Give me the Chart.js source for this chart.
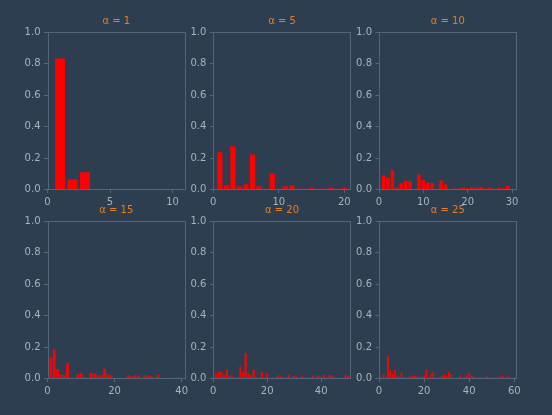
<!DOCTYPE html>
<html>
<head>
<meta charset="utf-8">
<script src="https://cdn.jsdelivr.net/npm/chart.js@4.4.1/dist/chart.umd.min.js"></script>
<style>
  html, body { margin: 0; padding: 0; background: #2c3e50; }
  #fig { position: relative; width: 552px; height: 415px; background: #2c3e50; overflow: hidden; }
  #fig canvas { position: absolute; }
</style>
</head>
<body>
<div id="fig"></div>
<script>
// concentration parameter of each panel
const alphas = [1, 5, 10, 15, 20, 25];

// stick-breaking weights, one bar per component (x = 1..N)
const weightsA1 = [0.831, 0.063, 0.110, 0, 0, 0, 0, 0, 0, 0];
const weightsA5 = [0.236, 0.025, 0.274, 0.020, 0.034, 0.223, 0.020, 0.005, 0.101, 0.004,
                   0.020, 0.025, 0.004, 0.004, 0.009, 0.004, 0.004, 0.009, 0.004, 0.009];
const weightsA10 = [0.089, 0.076, 0.123, 0.013, 0.042, 0.055, 0.053, 0.003, 0.095, 0.061,
                    0.044, 0.042, 0.004, 0.057, 0.032, 0.003, 0.006, 0.006, 0.013, 0.008,
                    0.013, 0.013, 0.017, 0.006, 0.013, 0.004, 0.011, 0.008, 0.024, 0.002];
const weightsA15 = [0.133, 0.183, 0.061, 0.025, 0.022, 0.099, 0.005, 0.005, 0.025, 0.037,
                    0.011, 0.005, 0.036, 0.033, 0.021, 0.021, 0.064, 0.026, 0.022, 0.005,
                    0.004, 0.002, 0.004, 0.021, 0.012, 0.019, 0.019, 0.005, 0.021, 0.021,
                    0.012, 0.006, 0.025, 0.004, 0.004, 0.004, 0.004, 0.004, 0.010, 0.004];
const weightsA20 = [0.032, 0.044, 0.042, 0.023, 0.057, 0.013, 0.021, 0.006, 0.006, 0.074,
                    0.042, 0.162, 0.032, 0.023, 0.057, 0.008, 0.006, 0.042, 0.008, 0.032,
                    0.002, 0.004, 0.004, 0.021, 0.013, 0.008, 0.008, 0.025, 0.006, 0.017,
                    0.011, 0.006, 0.017, 0.006, 0.008, 0.006, 0.017, 0.006, 0.021, 0.011,
                    0.023, 0.006, 0.021, 0.021, 0.006, 0.006, 0.002, 0.004, 0.021, 0.019];
const weightsA25 = [0.011, 0.025, 0.006, 0.145, 0.053, 0.025, 0.057, 0.015, 0.011, 0.040,
                    0.008, 0.006, 0.011, 0.013, 0.021, 0.017, 0.015, 0.011, 0.011, 0.017,
                    0.061, 0.011, 0.025, 0.040, 0.006, 0.006, 0.006, 0.019, 0.025, 0.017,
                    0.042, 0.025, 0.004, 0.004, 0.004, 0.021, 0.004, 0.011, 0.021, 0.036,
                    0.019, 0.015, 0.004, 0.006, 0.008, 0.004, 0.008, 0.015, 0.004, 0.008,
                    0.006, 0.004, 0.006, 0.021, 0.015, 0.004, 0.019, 0.004, 0.004, 0.004];

const xTickSteps = [5, 10, 10, 20, 20, 20];
const yTickStep = 0.2;

const allWeights = [weightsA1, weightsA5, weightsA10, weightsA15, weightsA20, weightsA25];

const spine = '#52657a';
const tickText = '#a9b3bd';
const titleColor = '#e67e22';
const font = { family: 'DejaVu Sans', size: 10 };

// layout of the 2x3 grid (pixels)
const axLeft = [47.5, 213.3, 379];
const axW = 137.5;
const canvasLeft = [0, 166, 332];
const canvasTop = [0, 189];
const canvasW = 193, canvasH = 210;
const xAxisH = 20.5;

// axes frame on all four sides, like matplotlib spines
const frame = {
  id: 'frame',
  afterDatasetsDraw(chart) {
    const a = chart.chartArea, ctx = chart.ctx;
    ctx.save();
    ctx.strokeStyle = spine;
    ctx.lineWidth = 1;
    ctx.strokeRect(Math.round(a.left) + 0.5, Math.round(a.top) + 0.5,
                   Math.round(a.right - a.left) - 1, Math.round(a.bottom - a.top) - 1);
    ctx.restore();
  }
};

const fig = document.getElementById('fig');

allWeights.forEach((w, k) => {
  const col = k % 3, row = Math.floor(k / 3);
  const n = w.length;
  const cv = document.createElement('canvas');
  cv.width = canvasW; cv.height = canvasH;
  cv.style.left = canvasLeft[col] + 'px';
  cv.style.top = canvasTop[row] + 'px';
  fig.appendChild(cv);

  const yW = axLeft[col] - canvasLeft[col];
  const padR = canvasW - yW - axW;

  new Chart(cv, {
    type: 'bar',
    data: {
      datasets: [{
        data: w.map((v, i) => ({ x: i + 1, y: v })),
        backgroundColor: '#ff0000',
        borderWidth: 0,
        barPercentage: 0.8,
        categoryPercentage: 1.0
      }]
    },
    options: {
      responsive: false,
      devicePixelRatio: 1,
      animation: false,
      layout: { padding: { left: 0, right: padR, top: 0, bottom: 0 } },
      plugins: {
        legend: { display: false },
        tooltip: { enabled: false },
        title: {
          display: true,
          fullSize: false,
          text: 'α = ' + alphas[k],
          color: titleColor,
          font: { family: 'DejaVu Sans', size: 10, weight: 'normal' },
          padding: { top: 15.5, bottom: 4.5 }
        }
      },
      scales: {
        x: {
          type: 'linear',
          min: 0,
          max: n + 1,
          offset: false,
          afterFit: s => { s.height = xAxisH; },
          grid: { offset: false, drawOnChartArea: false, drawTicks: true, tickLength: 3.5, color: spine },
          border: { display: false },
          ticks: { stepSize: xTickSteps[k], includeBounds: false, color: tickText, font, padding: 3, maxRotation: 0 }
        },
        y: {
          min: 0,
          max: 1,
          afterFit: s => { s.width = yW; },
          grid: { drawOnChartArea: false, drawTicks: true, tickLength: 3.5, color: spine },
          border: { display: false },
          ticks: { stepSize: yTickStep, color: tickText, font, padding: 3.5, callback: v => v.toFixed(1) }
        }
      }
    },
    plugins: [frame]
  });
});
</script>
</body>
</html>
